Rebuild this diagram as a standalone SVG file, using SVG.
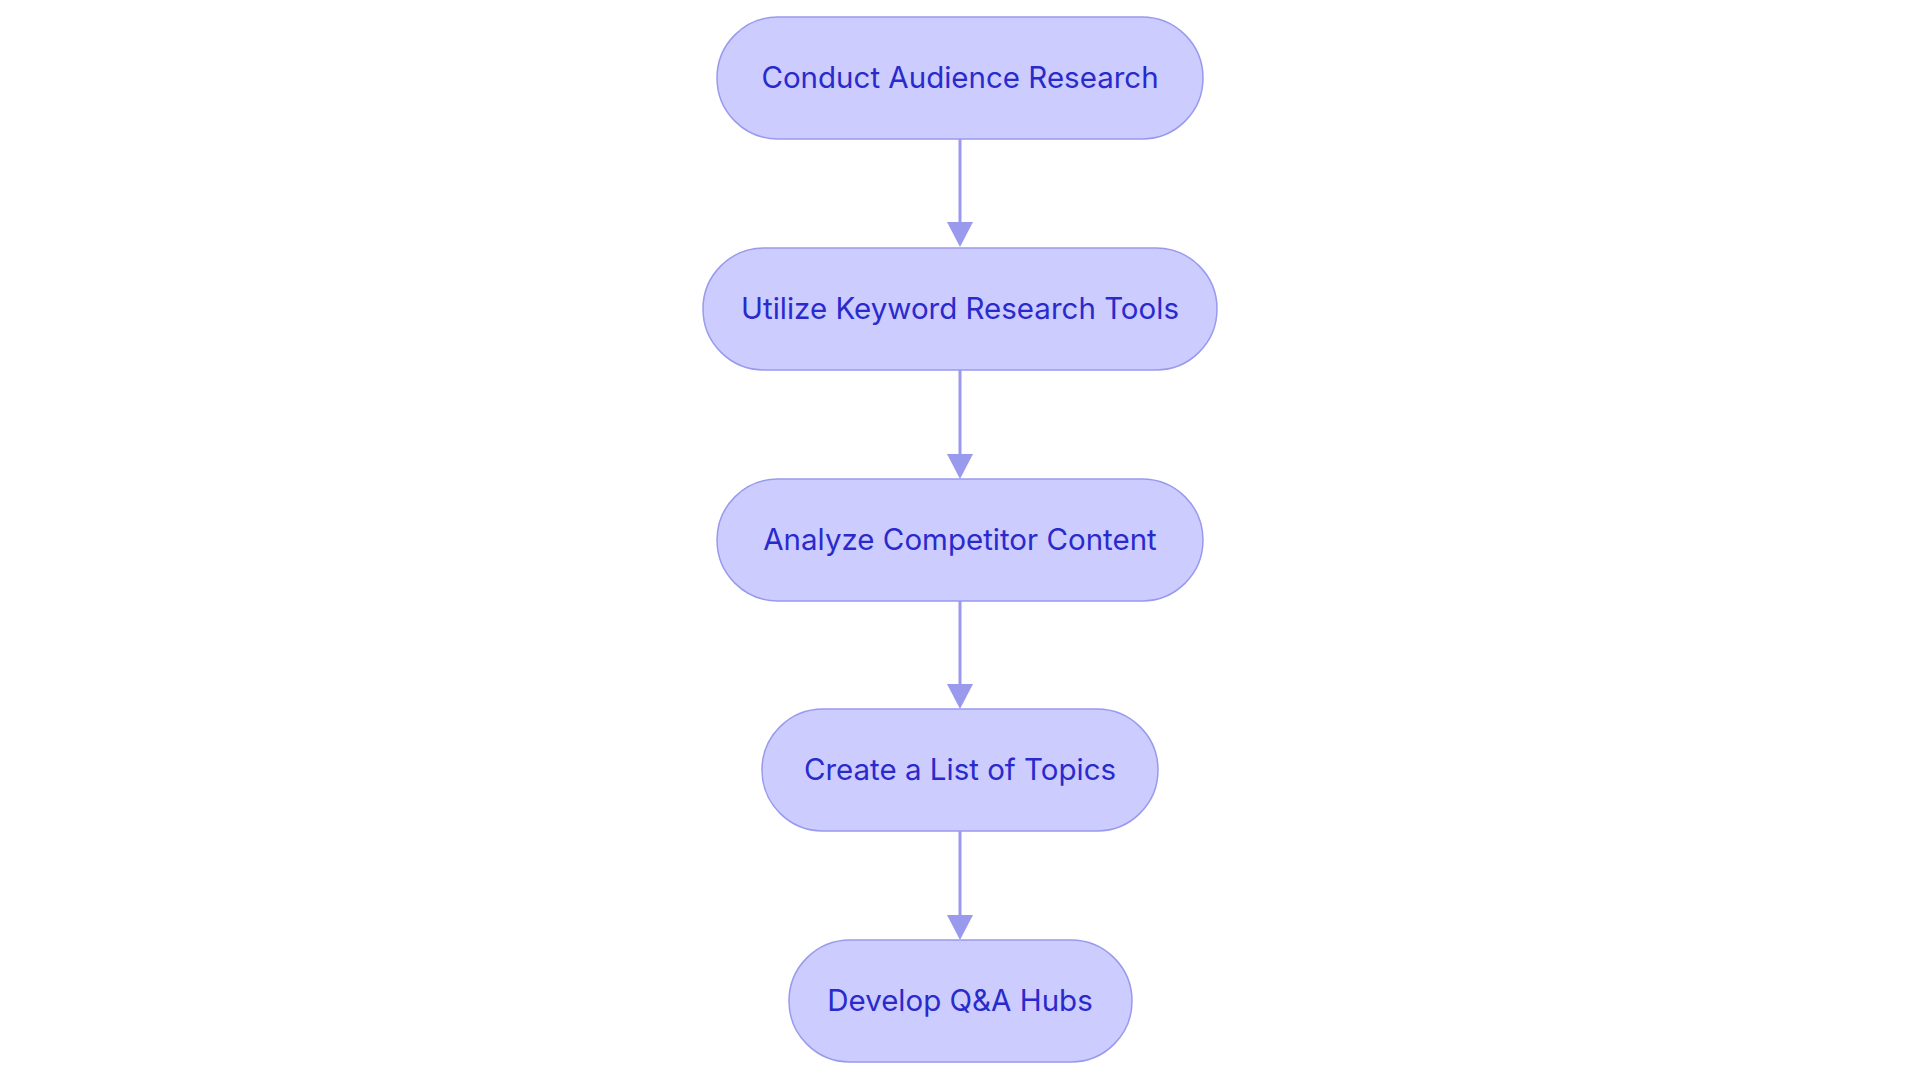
<svg xmlns="http://www.w3.org/2000/svg" width="1920" height="1083" viewBox="0 0 1920 1083">
<style>
.n rect{fill:#ccccff;stroke:#9999ee;stroke-width:1.5}
.n text{font-family:Inter,"Noto Sans",sans-serif;font-size:29.5px;fill:#2a2acc;text-anchor:middle;dominant-baseline:central}
.e line{stroke:#9999ee;stroke-width:3}
.e polygon{fill:#9999ee;stroke:none}
</style>
<rect width="1920" height="1083" fill="#fff"/>
<g class="e">
<line x1="960" y1="139" x2="960" y2="226"/><polygon points="947,222 960,247 973,222"/>
<line x1="960" y1="370" x2="960" y2="458"/><polygon points="947,454 960,479 973,454"/>
<line x1="960" y1="600" x2="960" y2="688"/><polygon points="947,684 960,709 973,684"/>
<line x1="960" y1="831" x2="960" y2="919"/><polygon points="947,915 960,940 973,915"/>
</g>
<g id="n1" class="n"><rect x="717" y="17" width="486" height="122" rx="61"/><text x="960" y="77">Conduct Audience Research</text></g>
<g id="n2" class="n"><rect x="703" y="248" width="514" height="122" rx="61"/><text x="960" y="308">Utilize Keyword Research Tools</text></g>
<g id="n3" class="n"><rect x="717" y="479" width="486" height="122" rx="61"/><text x="960" y="539">Analyze Competitor Content</text></g>
<g id="n4" class="n"><rect x="762" y="709" width="396" height="122" rx="61"/><text x="960" y="769">Create a List of Topics</text></g>
<g id="n5" class="n"><rect x="789" y="940" width="343" height="122" rx="61"/><text x="960" y="1000">Develop Q&amp;A Hubs</text></g>
</svg>
